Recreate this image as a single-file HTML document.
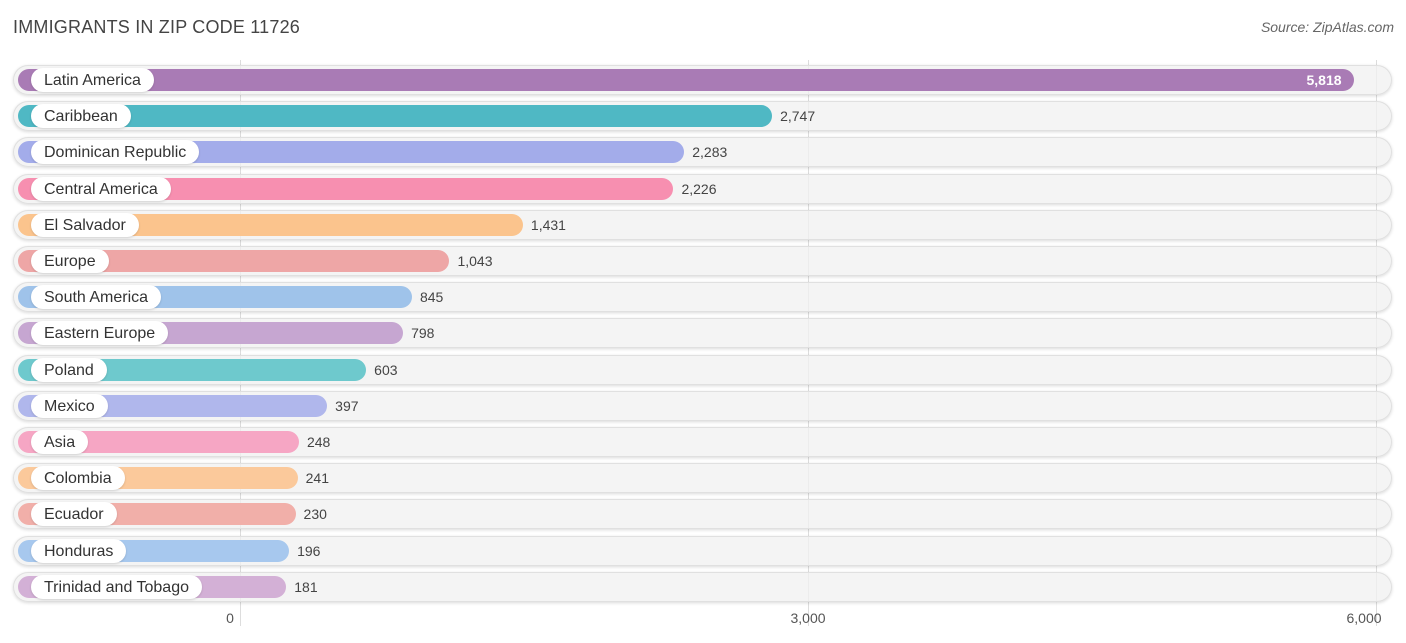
<!DOCTYPE html>
<html><head><meta charset="utf-8">
<style>
body{margin:0;background:#fff;font-family:"Liberation Sans",Arial,sans-serif;}
#wrap{position:relative;width:1406px;height:643px;overflow:hidden;}
.title{position:absolute;left:13px;top:17px;font-size:18px;color:#444;letter-spacing:0.2px}
.src{position:absolute;right:12px;top:19px;font-size:14px;color:#666;font-style:italic}
.grid{position:absolute;top:60px;width:1px;height:566px;background:#ddd}
.tick{position:absolute;top:610px;font-size:14px;color:#555;transform:translateX(-50%)}
.row{position:absolute;left:13px;width:1379px;height:30px;border-radius:15px;background:rgba(240,240,240,0.75);box-shadow:0 0 0 1px #e0e0e0 inset,0 1px 3px rgba(0,0,0,0.15)}
.bar{position:absolute;left:18px;height:22px;border-radius:11px}
.lab{position:absolute;left:31px;height:24px;line-height:25px;padding:0 13px;background:#fff;border-radius:12px;font-size:16px;color:#333;box-shadow:0 1px 2px rgba(0,0,0,0.15)}
.val{position:absolute;font-size:14px;color:#444;line-height:22px}
</style></head><body>
<div id="wrap">
<div class="title">IMMIGRANTS IN ZIP CODE 11726</div>
<div class="src">Source: ZipAtlas.com</div>
</div>
<script>
const categories=["Latin America","Caribbean","Dominican Republic","Central America","El Salvador","Europe","South America","Eastern Europe","Poland","Mexico","Asia","Colombia","Ecuador","Honduras","Trinidad and Tobago"];
const values=[5818,2747,2283,2226,1431,1043,845,798,603,397,248,241,230,196,181];
const colors=["#a97bb5","#4fb8c4","#a3acea","#f78fb0","#fbc48d","#eea6a6","#9fc3ea","#c6a6d1","#6ec9cd","#b0b7ec","#f6a6c4","#fbc99b","#f1afa9","#a7c8ee","#d3b0d6"];
const ticks=[0,3000,6000];
const tickLabels=["0","3,000","6,000"];
const W=document.getElementById('wrap');
function x(v){return 240+v*(568/3000);}
function rowY(i){return 80+i*36.2;}
ticks.forEach((t,i)=>{
  const g=document.createElement('div');g.className='grid';g.style.left=x(t)+'px';
  
  
  W.appendChild(g);
});
categories.forEach((c,i)=>{
  const cy=rowY(i);
  const r=document.createElement('div');r.className='row';r.style.top=(cy-15)+'px';
  
  
  W.appendChild(r);
  const end=x(values[i])+12;
  const b=document.createElement('div');b.className='bar';b.style.top=(cy-11)+'px';
  b.style.width=(end-18)+'px';b.style.background=colors[i];
  
  
  W.appendChild(b);
  const l=document.createElement('div');l.className='lab';l.style.top=(cy-12)+'px';l.textContent=c;
  
  
  W.appendChild(l);
  const v=document.createElement('div');v.className='val';v.style.top=(cy-11)+'px';
  v.textContent=values[i].toLocaleString('en-US');
  if(i===0){v.style.left=(end-48-12)+'px';v.style.color='#fff';v.style.fontWeight='bold';v.style.width='48px';v.style.textAlign='right';}
  else v.style.left=(end+8)+'px';
  
  
  W.appendChild(v);
});
ticks.forEach((t,i)=>{
  const k=document.createElement('div');k.className='tick';k.style.left=(x(t)-(i===0?10:0)-(i===2?12:0))+'px';k.textContent=tickLabels[i];
  
  
  W.appendChild(k);
});
</script>
</body></html>
